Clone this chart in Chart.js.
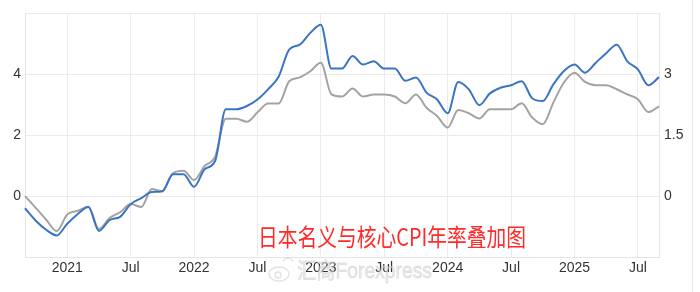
<!DOCTYPE html>
<html>
<head>
<meta charset="utf-8">
<script src="https://cdn.jsdelivr.net/npm/chart.js@4.4.1/dist/chart.umd.min.js"></script>
<style>
  html, body { margin: 0; padding: 0; background: #fff; }
  #wrap { width: 700px; height: 292px; position: relative; }
</style>
</head>
<body>
<div id="wrap"><canvas id="chart"></canvas></div>
<script>
// monthly points, Sep 2020 .. Sep 2025
const months = [
  '2020-09', '2020-10', '2020-11', '2020-12',
  '2021-01', '2021-02', '2021-03', '2021-04', '2021-05', '2021-06', '2021-07', '2021-08', '2021-09', '2021-10', '2021-11', '2021-12',
  '2022-01', '2022-02', '2022-03', '2022-04', '2022-05', '2022-06', '2022-07', '2022-08', '2022-09', '2022-10', '2022-11', '2022-12',
  '2023-01', '2023-02', '2023-03', '2023-04', '2023-05', '2023-06', '2023-07', '2023-08', '2023-09', '2023-10', '2023-11', '2023-12',
  '2024-01', '2024-02', '2024-03', '2024-04', '2024-05', '2024-06', '2024-07', '2024-08', '2024-09', '2024-10', '2024-11', '2024-12',
  '2025-01', '2025-02', '2025-03', '2025-04', '2025-05', '2025-06', '2025-07', '2025-08', '2025-09'
];

// headline CPI y/y (grey, left axis)
const headlineCpi = [
  0, -0.38, -0.77, -1.15,
  -0.6, -0.48, -0.35, -1.08, -0.72, -0.53, -0.26, -0.36, 0.23, 0.16, 0.75, 0.83,
  0.53, 0.99, 1.3, 2.54, 2.54, 2.44, 2.75, 3.04, 3.04, 3.77, 3.9, 4.1,
  4.38, 3.34, 3.27, 3.53, 3.27, 3.34, 3.34, 3.27, 3.05, 3.34, 2.9, 2.63,
  2.25, 2.83, 2.72, 2.55, 2.85, 2.85, 2.85, 3.05, 2.58, 2.36, 3.07, 3.73,
  4.05, 3.75, 3.64, 3.64, 3.51, 3.34, 3.18, 2.76, 2.95
];

// core CPI y/y (blue, right axis)
const coreCpi = [
  -0.3, -0.6, -0.83, -0.97,
  -0.68, -0.44, -0.27, -0.86, -0.59, -0.51, -0.2, -0.05, 0.1, 0.12, 0.54, 0.54,
  0.23, 0.66, 0.87, 2.14, 2.14, 2.22, 2.38, 2.63, 2.94, 3.61, 3.73, 4.02,
  4.22, 3.14, 3.14, 3.45, 3.24, 3.32, 3.14, 3.14, 2.84, 2.92, 2.55, 2.38,
  2.04, 2.81, 2.63, 2.24, 2.53, 2.67, 2.73, 2.83, 2.41, 2.34, 2.75, 3.08,
  3.24, 3.04, 3.28, 3.52, 3.73, 3.32, 3.12, 2.73, 2.93
];

const leftTickLabels = [0, 2, 4];
const rightTickLabels = [0, 1.5, 3];
const titleText = '日本名义与核心CPI年率叠加图';
const watermarkText = '汇商Forexpress';

const gridColor = '#ebebeb';

const overlayPlugin = {
  id: 'overlay',
  afterDraw(chart) {
    const ctx = chart.ctx;
    ctx.save();
    // red caption inside the plot
    ctx.font = '24px "Noto Sans CJK SC"';
    ctx.fillStyle = '#ff2a2a';
    ctx.textBaseline = 'middle';
    const w = ctx.measureText(titleText).width;
    ctx.translate(258, 237);
    ctx.scale(268 / w, 1);
    ctx.fillText(titleText, 0, 0);
    ctx.restore();

    // watermark
    ctx.save();
    ctx.globalAlpha = 0.5;
    ctx.strokeStyle = '#c4c4c4';
    ctx.lineWidth = 1.3;
    ctx.beginPath();
    ctx.ellipse(279, 274, 10, 7, 0, 0, Math.PI * 2);
    ctx.stroke();
    ctx.beginPath();
    ctx.arc(278, 275, 3, 0, Math.PI * 2);
    ctx.stroke();
    ctx.beginPath();
    ctx.arc(288, 263, 5, Math.PI * 1.1, Math.PI * 1.9);
    ctx.stroke();
    ctx.font = '22px "Liberation Sans", "Noto Sans CJK SC"';
    ctx.textBaseline = 'middle';
    const ww = ctx.measureText(watermarkText).width;
    ctx.translate(297, 272);
    ctx.scale(135 / ww, 1);
    ctx.fillStyle = '#dadada';
    ctx.strokeStyle = '#c8c8c8';
    ctx.lineWidth = 0.8;
    ctx.fillText(watermarkText, 0, 0);
    ctx.strokeText(watermarkText, 0, 0);
    ctx.restore();

    // faint right-hand frame line
    ctx.save();
    ctx.strokeStyle = '#e6e6e6';
    ctx.lineWidth = 1;
    ctx.beginPath();
    ctx.moveTo(692.5, 0);
    ctx.lineTo(692.5, 292);
    ctx.stroke();
    ctx.restore();
  }
};

new Chart(document.getElementById('chart'), {
  type: 'line',
  data: {
    labels: months,
    datasets: [
      {
        label: 'Core',
        data: coreCpi,
        yAxisID: 'y1',
        borderColor: '#3b74c2',
        borderWidth: 2,
        pointRadius: 0,
        cubicInterpolationMode: 'monotone',
        fill: false
      },
      {
        label: 'Headline',
        data: headlineCpi,
        yAxisID: 'y',
        borderColor: '#a3a3a3',
        borderWidth: 2,
        pointRadius: 0,
        cubicInterpolationMode: 'monotone',
        fill: false
      }
    ]
  },
  options: {
    responsive: true,
    maintainAspectRatio: false,
    animation: false,
    layout: { padding: { top: 13, left: 0, right: 0, bottom: 0 } },
    plugins: {
      legend: { display: false },
      tooltip: { enabled: false }
    },
    scales: {
      x: {
        offset: false,
        grid: { color: gridColor, drawTicks: false },
        border: { color: '#e4e4e4' },
        ticks: {
          autoSkip: false,
          maxRotation: 0,
          padding: 3,
          color: '#333',
          font: { family: '"Liberation Sans", Arial', size: 14 },
          callback(value) {
            const m = months[value];
            if (m.endsWith('-01')) return m.slice(0, 4);
            if (m.endsWith('-07')) return 'Jul';
            return null;
          }
        },
        afterFit(s) { s.height = 35; }
      },
      y: {
        position: 'left',
        min: -2,
        max: 6,
        grid: { color: gridColor, drawTicks: false },
        border: { color: '#e4e4e4' },
        ticks: {
          stepSize: 2,
          padding: 4,
          color: '#333',
          font: { family: '"Liberation Sans", Arial', size: 14 },
          callback(v) { return leftTickLabels.includes(v) ? String(v) : ''; }
        },
        afterFit(s) { s.width = 25; }
      },
      y1: {
        position: 'right',
        min: -1.5,
        max: 4.5,
        grid: { drawOnChartArea: false, drawTicks: false },
        border: { color: '#e4e4e4' },
        ticks: {
          stepSize: 1.5,
          padding: 5,
          color: '#333',
          font: { family: '"Liberation Sans", Arial', size: 14 },
          callback(v) { return rightTickLabels.includes(v) ? String(v) : ''; }
        },
        afterFit(s) { s.width = 41; }
      }
    }
  },
  plugins: [overlayPlugin]
});
</script>
</body>
</html>
